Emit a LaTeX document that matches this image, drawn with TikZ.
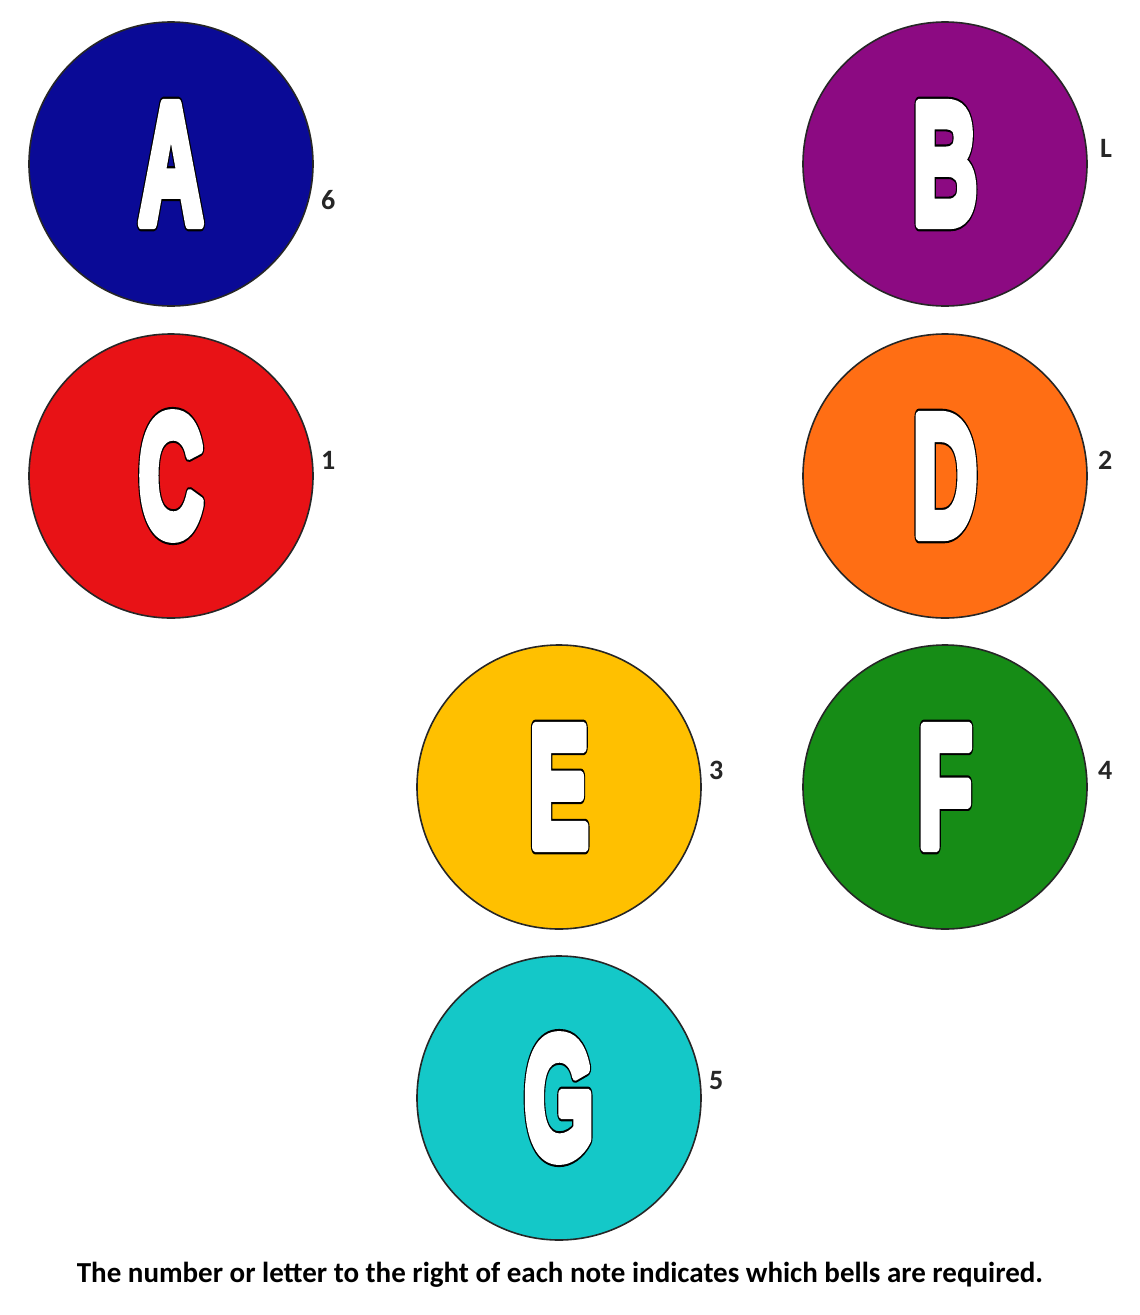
\documentclass[tikz,border=0pt]{standalone}
\usepackage{fontspec}
\usepackage{graphicx}
\setmainfont{Carlito}
\font\letterW="Liberation Sans/B:embolden=7" at 172pt
\font\letterK="Liberation Sans/B:embolden=9.5" at 172pt
\definecolor{cA}{RGB}{10,10,150}
\definecolor{cB}{RGB}{140,10,130}
\definecolor{cC}{RGB}{232,18,22}
\definecolor{cD}{RGB}{255,110,20}
\definecolor{cE}{RGB}{255,192,0}
\definecolor{cF}{RGB}{22,140,22}
\definecolor{cG}{RGB}{20,200,200}
\newcommand\bigletter[2]{%
  \node[inner sep=0pt, text=white, line join=round] (#1-letter) at (#1.center)
    {\scalebox{0.52}[1]{\rlap{\color{black}\letterK #2}\letterW #2}};
}
\tikzset{
  bell/.style={circle, draw=black!85, line width=1.6pt, minimum size=284pt, inner sep=0pt},
  num/.style={font=\bfseries\fontsize{28}{28}\selectfont, anchor=west, inner sep=0pt, text=black!85},
}
\begin{document}
\begin{tikzpicture}[x=1pt,y=-1pt]
\useasboundingbox (0,0) rectangle (1140,1315);
\fill[white] (0,0) rectangle (1140,1315);
\node[bell, fill=cA] (A) at (171,164) {};
\node[bell, fill=cB] (B) at (945,164) {};
\node[bell, fill=cC] (C) at (171,476) {};
\node[bell, fill=cD] (D) at (945,476) {};
\node[bell, fill=cE] (E) at (559,787) {};
\node[bell, fill=cF] (F) at (945,787) {};
\node[bell, fill=cG] (G) at (559,1098) {};
\bigletter{A}{A}
\bigletter{B}{B}
\bigletter{C}{C}
\bigletter{D}{D}
\bigletter{E}{E}
\bigletter{F}{F}
\bigletter{G}{G}
\node[num] (nA) at (321,200) {6};
\node[num] (nB) at (1100,148) {L};
\node[num] (nC) at (321,460) {1};
\node[num] (nD) at (1098,460) {2};
\node[num] (nE) at (709,770) {3};
\node[num] (nF) at (1098,770) {4};
\node[num] (nG) at (709,1081) {5};
\node[font=\bfseries\fontsize{29}{29}\selectfont, inner sep=0pt] (caption) at (560,1275) {The number or letter to the right of each note indicates which bells are required.};
\end{tikzpicture}
\end{document}
